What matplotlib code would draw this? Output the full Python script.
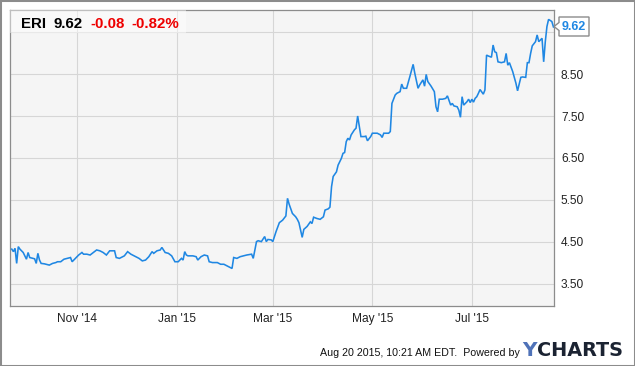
import matplotlib
matplotlib.use("Agg")
import matplotlib.pyplot as plt
import matplotlib.dates as mdates
from matplotlib.patches import Rectangle, Polygon
import pandas as pd

# ---------------- data ----------------
ticker = "ERI"
last_price = 9.62
change = "-0.08"
change_pct = "-0.82%"
timestamp_text = "Aug 20 2015, 10:21 AM EDT.  Powered by"

dates = [
    "2014-09-22", "2014-09-23", "2014-09-24", "2014-09-25", "2014-09-26", "2014-09-27",
    "2014-09-29", "2014-10-01", "2014-10-02", "2014-10-03", "2014-10-05", "2014-10-06",
    "2014-10-07", "2014-10-08", "2014-10-09", "2014-10-10", "2014-10-12", "2014-10-15",
    "2014-10-17", "2014-10-19", "2014-10-20", "2014-10-22", "2014-10-24", "2014-10-26",
    "2014-10-28", "2014-10-29", "2014-10-31", "2014-11-02", "2014-11-04", "2014-11-05",
    "2014-11-07", "2014-11-09", "2014-11-11", "2014-11-13", "2014-11-15", "2014-11-17",
    "2014-11-19", "2014-11-21", "2014-11-24", "2014-11-25", "2014-11-27", "2014-11-30",
    "2014-12-02", "2014-12-04", "2014-12-06", "2014-12-09", "2014-12-11", "2014-12-13",
    "2014-12-15", "2014-12-17", "2014-12-18", "2014-12-20", "2014-12-22", "2014-12-23",
    "2014-12-25", "2014-12-27", "2014-12-29", "2014-12-31", "2015-01-02", "2015-01-04",
    "2015-01-05", "2015-01-06", "2015-01-07", "2015-01-08", "2015-01-11", "2015-01-13",
    "2015-01-14", "2015-01-16", "2015-01-18", "2015-01-20", "2015-01-21", "2015-01-23",
    "2015-01-26", "2015-01-28", "2015-01-30", "2015-02-01", "2015-02-03", "2015-02-04",
    "2015-02-05", "2015-02-07", "2015-02-09", "2015-02-11", "2015-02-13", "2015-02-16",
    "2015-02-17", "2015-02-19", "2015-02-20", "2015-02-22", "2015-02-24", "2015-02-25",
    "2015-02-26", "2015-02-28", "2015-03-01", "2015-03-03", "2015-03-05", "2015-03-07",
    "2015-03-09", "2015-03-10", "2015-03-11", "2015-03-13", "2015-03-15", "2015-03-16",
    "2015-03-17", "2015-03-19", "2015-03-20", "2015-03-22", "2015-03-24", "2015-03-25",
    "2015-03-26", "2015-03-28", "2015-03-30", "2015-04-01", "2015-04-02", "2015-04-04",
    "2015-04-05", "2015-04-06", "2015-04-07", "2015-04-09", "2015-04-10", "2015-04-12",
    "2015-04-13", "2015-04-14", "2015-04-15", "2015-04-16", "2015-04-17", "2015-04-18",
    "2015-04-20", "2015-04-21", "2015-04-22", "2015-04-24", "2015-04-26", "2015-04-27",
    "2015-04-28", "2015-04-30", "2015-05-01", "2015-05-04", "2015-05-06", "2015-05-07",
    "2015-05-08", "2015-05-11", "2015-05-12", "2015-05-13", "2015-05-15", "2015-05-16",
    "2015-05-18", "2015-05-19", "2015-05-20", "2015-05-22", "2015-05-24", "2015-05-26",
    "2015-05-27", "2015-05-29", "2015-05-30", "2015-06-01", "2015-06-02", "2015-06-03",
    "2015-06-04", "2015-06-06", "2015-06-08", "2015-06-09", "2015-06-10", "2015-06-11",
    "2015-06-13", "2015-06-15", "2015-06-16", "2015-06-18", "2015-06-19", "2015-06-20",
    "2015-06-22", "2015-06-23", "2015-06-24", "2015-06-25", "2015-06-26", "2015-06-28",
    "2015-06-29", "2015-06-30", "2015-07-01", "2015-07-02", "2015-07-03", "2015-07-04",
    "2015-07-05", "2015-07-06", "2015-07-08", "2015-07-09", "2015-07-10", "2015-07-11",
    "2015-07-13", "2015-07-14", "2015-07-15", "2015-07-16", "2015-07-17", "2015-07-19",
    "2015-07-21", "2015-07-22", "2015-07-23", "2015-07-24", "2015-07-26", "2015-07-28",
    "2015-07-29", "2015-07-31", "2015-08-01", "2015-08-03", "2015-08-04", "2015-08-05",
    "2015-08-06", "2015-08-07", "2015-08-09", "2015-08-10", "2015-08-11", "2015-08-12",
    "2015-08-13", "2015-08-14", "2015-08-15", "2015-08-16", "2015-08-17", "2015-08-19",
    "2015-08-20",
]
prices = [
    4.33, 4.27, 4.35, 3.99, 4.39, 4.33,
    4.25, 4.09, 4.25, 4.13, 4.11, 4.10,
    3.99, 4.23, 4.07, 3.99, 3.98, 3.95,
    3.99, 4.01, 4.03, 4.03, 4.09, 4.11,
    4.13, 4.03, 4.11, 4.19, 4.25, 4.21,
    4.21, 4.19, 4.25, 4.31, 4.29, 4.25,
    4.19, 4.29, 4.29, 4.13, 4.11, 4.17,
    4.27, 4.21, 4.17, 4.11, 4.05, 4.07,
    4.15, 4.27, 4.23, 4.29, 4.31, 4.37,
    4.25, 4.23, 4.17, 4.03, 4.03, 4.11,
    4.07, 4.27, 4.19, 4.17, 4.17, 4.15,
    4.07, 4.15, 4.19, 4.17, 4.03, 4.01,
    4.01, 3.97, 3.97, 3.93, 3.89, 3.87,
    4.13, 4.11, 4.15, 4.17, 4.19, 4.21,
    4.11, 4.51, 4.53, 4.51, 4.63, 4.51,
    4.56, 4.55, 4.51, 4.75, 4.96, 5.02,
    5.12, 5.54, 5.40, 5.18, 5.10, 5.04,
    4.96, 4.61, 4.80, 4.87, 4.98, 4.94,
    5.09, 5.06, 5.04, 5.10, 5.26, 5.29,
    5.33, 5.82, 6.06, 6.17, 6.33, 6.49,
    6.61, 6.63, 6.89, 6.97, 6.93, 7.05,
    7.17, 7.21, 7.50, 7.01, 7.01, 7.02,
    6.91, 7.01, 7.09, 7.09, 7.05, 6.99,
    7.09, 7.09, 7.13, 7.80, 8.00, 8.04,
    8.08, 8.26, 8.16, 8.16, 8.44, 8.73,
    8.52, 8.16, 8.24, 8.36, 8.21, 8.49,
    8.32, 8.21, 8.08, 7.72, 7.60, 7.90,
    7.90, 7.92, 7.98, 7.76, 7.80, 7.74,
    7.72, 7.64, 7.47, 7.96, 7.76, 7.84,
    7.90, 7.82, 7.90, 7.83, 7.92, 7.96,
    8.04, 8.13, 8.02, 8.12, 8.95, 8.93,
    8.90, 9.19, 9.03, 9.01, 8.79, 8.77,
    8.79, 8.99, 8.71, 8.77, 8.56, 8.28,
    8.10, 8.42, 8.43, 8.42, 8.77, 8.77,
    8.99, 9.17, 9.27, 9.43, 9.27, 9.31,
    9.35, 8.79, 9.27, 9.63, 9.80, 9.75,
    9.62,
]
y_ticks = [3.5, 4.5, 5.5, 6.5, 7.5, 8.5, 9.5]
x_ticks = ["2014-11-01", "2015-01-01", "2015-03-01", "2015-05-01", "2015-07-01"]

# ---------------- layout helpers ----------------
W, H = 635, 366
fig = plt.figure(figsize=(W / 100, H / 100), dpi=100, facecolor="white")


def fx(px):
    return px / W


def fy(py):
    return 1 - py / H


L, R, T, B = 10, 554, 10, 306
ax = fig.add_axes([fx(L), fy(B), fx(R - L), (B - T) / H])
ax.set_facecolor("#f5f5f5")

x = pd.to_datetime(dates)
ax.plot(x, prices, color="#1f87e3", lw=1.15, solid_joinstyle="miter", zorder=3)

ax.set_xlim(pd.Timestamp("2014-09-20 22:00"), pd.Timestamp("2015-08-20 08:00"))
ax.set_ylim(2.976, 10.024)

ax.set_yticks(y_ticks)
ax.set_yticklabels([f"{t:.2f}" if t < 9 else "" for t in y_ticks])
ax.yaxis.tick_right()
ax.set_xticks(pd.to_datetime(x_ticks))
ax.xaxis.set_major_formatter(mdates.DateFormatter("%b '%y"))

ax.grid(True, color="#d6d6d6", lw=0.8)
ax.set_axisbelow(True)
ax.tick_params(length=0, labelsize=8.6, labelcolor="#222222",
               labelfontfamily="Liberation Sans")
ax.tick_params(axis="y", pad=5)
ax.tick_params(axis="x", pad=5)
for s in ax.spines.values():
    s.set_color("#8c8c8c")
    s.set_linewidth(0.9)

# header band
fig.patches.append(Rectangle((fx(L), fy(33)), fx(186 - L), (33 - T) / H,
                             transform=fig.transFigure, facecolor="white",
                             alpha=0.45, edgecolor="none", zorder=5))
hy = fy(23.5)
hfont = dict(family="Liberation Sans", fontweight="bold", fontsize=10.8,
             va="center", ha="left", zorder=6)
fig.text(fx(21.5), hy, ticker, color="black", **hfont)
fig.text(fx(54), hy, f"{last_price:.2f}", color="black", **hfont)
fig.text(fx(90.5), hy, change, color="#ee0000", **hfont)
fig.text(fx(131.5), hy, change_pct, color="#ee0000", **hfont)

# last value flag
flag = [(559, 17), (589, 17), (589, 36), (559, 36), (559, 30.5), (554, 26.5), (559, 22.5)]
fig.patches.append(Polygon([(fx(a), fy(b)) for a, b in flag], closed=True,
                           transform=fig.transFigure, facecolor="white",
                           edgecolor="#8c8c8c", lw=1, zorder=6))
fig.text(fx(574), fy(26.8), f"{last_price:.2f}", color="#1f87e3",
         family="Liberation Sans", fontweight="bold", fontsize=9,
         ha="center", va="center", zorder=7)

# footer
fig.text(fx(520), fy(353), timestamp_text, family="Liberation Sans",
         fontsize=7.7, color="#111111", ha="right", va="center")
fig.text(fx(522.5), fy(350.5), "Y", family="DejaVu Sans", fontweight="bold",
         fontsize=14.5, color="#4f72b8", ha="left", va="center")
fig.text(fx(537), fy(350), "CHARTS", family="DejaVu Sans", fontweight="bold",
         fontsize=13.9, color="#1b2332", ha="left", va="center")

# outer border
fig.patches.append(Rectangle((0, 0), 1, 1, transform=fig.transFigure,
                             fill=False, edgecolor="#8c8c8c", lw=2.2, zorder=10))

fig.savefig("out.png", dpi=100, facecolor="white")
